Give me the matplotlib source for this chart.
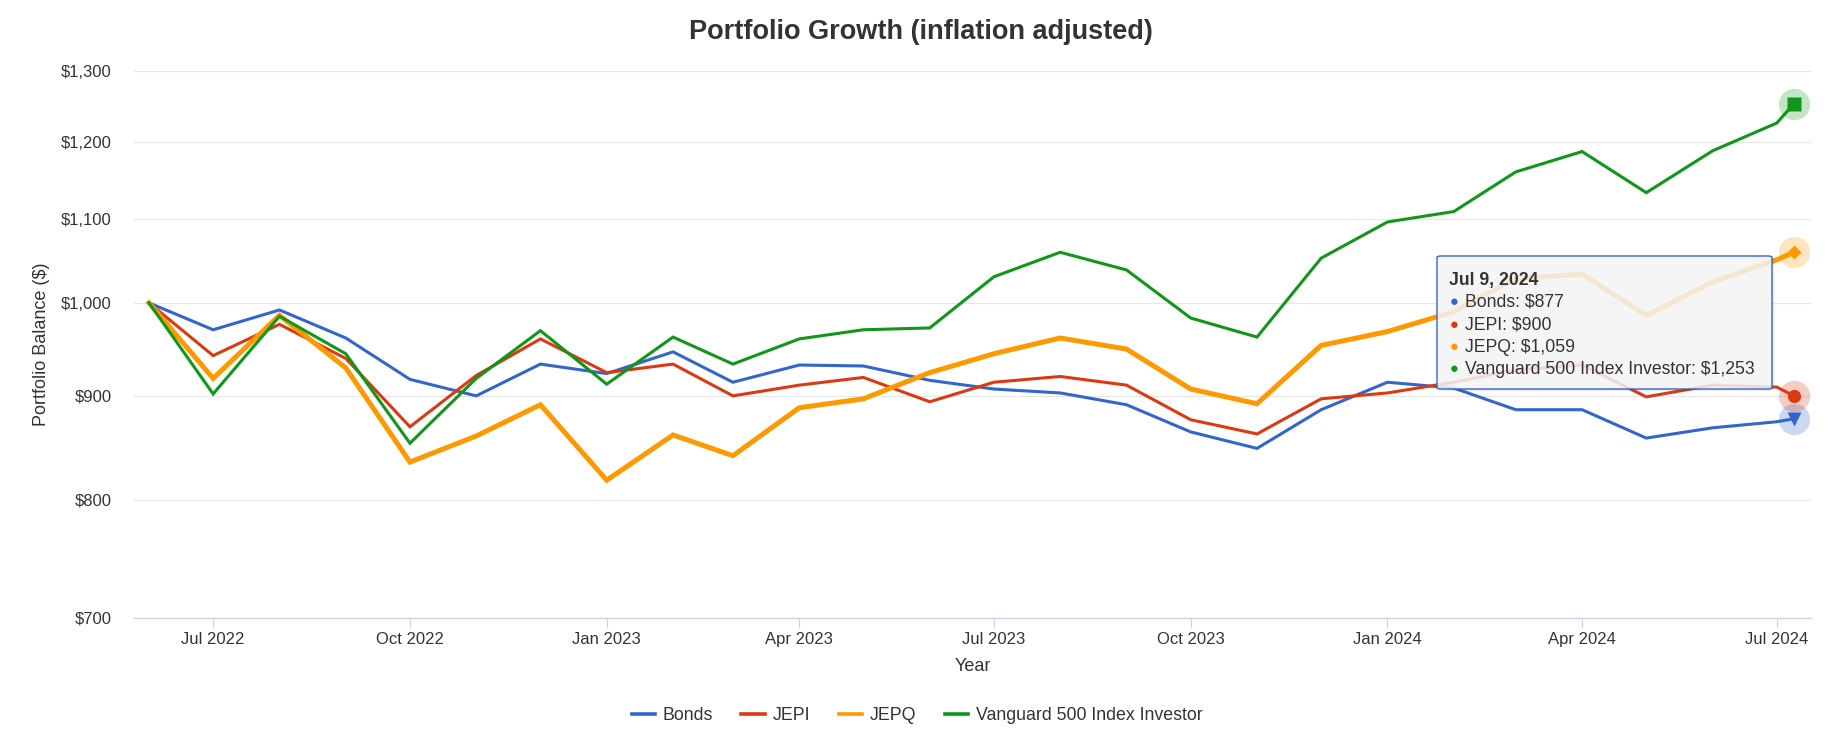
import pandas as pd
import matplotlib
matplotlib.use("Agg")
import matplotlib.pyplot as plt
import matplotlib.dates as mdates
from matplotlib.ticker import FixedLocator, FuncFormatter, NullLocator
from matplotlib.lines import Line2D
from matplotlib.patches import FancyBboxPatch

plt.rcParams["font.family"] = ["Liberation Sans", "DejaVu Sans"]

# fechas: inicio de cada mes + ultimo dia con datos
dates = list(pd.date_range("2022-06-01", "2024-07-01", freq="MS")) + [pd.Timestamp("2024-07-09")]

bonds = [1000, 970, 992, 961, 917, 900, 933, 923, 946, 914, 932, 931, 916,
         907, 903, 891, 864, 848, 886, 914, 908, 886, 886, 858, 868, 874, 877]
jepi = [1000, 942, 976, 939, 869, 921, 960, 924, 933, 900, 911, 919, 894,
        914, 920, 911, 876, 862, 897, 903, 914, 927, 932, 899, 911, 909, 900]
jepq = [1000, 918, 986, 929, 835, 860, 891, 818, 861, 841, 888, 897, 924,
        944, 961, 949, 907, 892, 953, 968, 990, 1028, 1033, 986, 1024, 1050, 1059]
vfiax = [1000, 902, 985, 944, 853, 918, 969, 912, 962, 933, 960, 970, 972,
         1030, 1059, 1038, 983, 962, 1052, 1096, 1109, 1160, 1187, 1133, 1188, 1226, 1253]

names = ["Bonds", "JEPI", "JEPQ", "Vanguard 500 Index Investor"]
colors = ["#3366cc", "#dc3912", "#ff9900", "#109618"]
markers = ["v", "o", "D", "s"]
series = [bonds, jepi, jepq, vfiax]

y_ticks = [700, 800, 900, 1000, 1100, 1200, 1300]
x_ticks = pd.date_range("2022-07-01", "2024-07-01", freq="QS-JAN")

W, H = 1830, 736
fig = plt.figure(figsize=(W / 100, H / 100), dpi=100)


def fx(x):
    return x / W


def fy(y):
    return 1 - y / H


ax = fig.add_axes([fx(134), fy(617.7), fx(1811 - 134), (617.7 - 71.3) / H])

for i, (name, vals) in enumerate(zip(names, series)):
    lw = 3.6 if name == "JEPQ" else 2.2
    ax.plot(dates, vals, color=colors[i], lw=lw, zorder=3 + i, solid_joinstyle="miter")
    # halo + marcador en el ultimo punto
    ax.plot(dates[-1], vals[-1], marker="o", ms=22.5, color=colors[i], alpha=0.25,
            mec="none", zorder=8, clip_on=False)
    ms = 7.5 if markers[i] == "D" else 9.5
    ax.plot(dates[-1], vals[-1], marker=markers[i], ms=ms, color=colors[i],
            mec="none", zorder=9, clip_on=False)

ax.set_yscale("log")
ax.set_ylim(700, 1300)
ax.yaxis.set_major_locator(FixedLocator(y_ticks))
ax.yaxis.set_minor_locator(NullLocator())
ax.yaxis.set_major_formatter(FuncFormatter(lambda v, p: "${:,.0f}".format(v)))
ax.set_xlim(pd.Timestamp("2022-05-25"), pd.Timestamp("2024-07-17"))
ax.xaxis.set_major_locator(FixedLocator(mdates.date2num(x_ticks)))
ax.xaxis.set_major_formatter(mdates.DateFormatter("%b %Y"))

ax.grid(axis="y", color="#e6e6e6", lw=0.8)
ax.set_axisbelow(True)
for s in ["top", "right", "left"]:
    ax.spines[s].set_visible(False)
ax.spines["bottom"].set_color("#ccd6eb")
ax.spines["bottom"].set_linewidth(1.0)
ax.tick_params(axis="y", length=0, pad=16, labelsize=12, labelcolor="#333333")
ax.tick_params(axis="x", length=7.2, width=0.8, color="#ccd6eb", pad=3,
               labelsize=12, labelcolor="#333333")

ax.set_xlabel("Year", fontsize=13, color="#333333", va="center")
ax.xaxis.set_label_coords(0.5, -49 / 546.4)
ax.set_ylabel("Portfolio Balance ($)", fontsize=13, color="#333333", va="center")
ax.yaxis.set_label_coords((42 - 134) / 1677, 0.5)

fig.text(fx(921), fy(32), "Portfolio Growth (inflation adjusted)", ha="center", va="center",
         fontsize=19.5, fontweight="bold", color="#333333")

handles = [Line2D([], [], color=c, lw=2.6) for c in colors]
fig.legend(handles, names, loc="center", bbox_to_anchor=(fx(917), fy(716)), ncol=4,
           frameon=False, fontsize=12.8, handlelength=1.3, handletextpad=0.45,
           columnspacing=1.6, labelcolor="#333333")

# tooltip
x0, x1, y0, y1 = 1437, 1772, 256, 389
shadow = FancyBboxPatch((fx(x0 + 2), fy(y1 + 2)), fx(x1 - x0), (y1 - y0) / H,
                        boxstyle="round,pad=0,rounding_size=0.002", transform=fig.transFigure,
                        fc="#000000", ec="none", alpha=0.08, zorder=20)
box = FancyBboxPatch((fx(x0), fy(y1)), fx(x1 - x0), (y1 - y0) / H,
                     boxstyle="round,pad=0,rounding_size=0.002", transform=fig.transFigure,
                     fc=(0.969, 0.969, 0.969, 0.85), ec="#3366cc", lw=1.0, zorder=21)
fig.patches.append(shadow)
fig.patches.append(box)
fig.text(fx(1449), fy(280), "Jul 9, 2024", fontsize=12.7, fontweight="bold", color="#333333",
         va="center", ha="left", zorder=22)
row_y = [302, 325, 347, 369]
for i, name in enumerate(names):
    fig.text(fx(1454), fy(row_y[i]), "\u25cf", fontsize=10.5, color=colors[i],
             va="center", ha="center", zorder=22)
    fig.text(fx(1465), fy(row_y[i]), "{}: ${:,.0f}".format(name, series[i][-1]),
             fontsize=12.7, color="#333333", va="center", ha="left", zorder=22)

fig.savefig("out.png", dpi=100)
